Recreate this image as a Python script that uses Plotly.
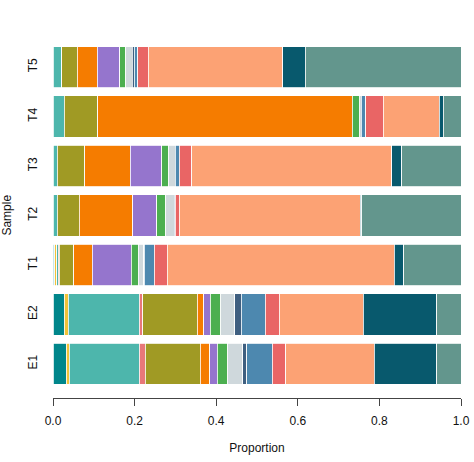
import plotly.graph_objects as go

samples = ["E1", "E2", "T1", "T2", "T3", "T4", "T5"]

taxa = ["A", "B", "C", "D", "E", "F", "G", "H", "I", "J", "K", "L", "M", "N", "O"]
colors = ["#00868B", "#F0C239", "#4DB6AC", "#E8787A", "#A09A24", "#F57C00",
          "#9575CD", "#4CAF50", "#CFD8DC", "#3F5F80", "#4D88AF", "#E96565",
          "#FCA274", "#08596D", "#63968D"]

# proportions per taxon, order of samples: E1, E2, T1, T2, T3, T4, T5
A = [0.032, 0.027, 0.004, 0.000, 0.000, 0.000, 0.000]
B = [0.008, 0.0105, 0.005, 0.000, 0.000, 0.000, 0.000]
C = [0.1715, 0.174, 0.004, 0.011, 0.010, 0.028, 0.022]
D = [0.014, 0.0085, 0.002, 0.000, 0.000, 0.000, 0.000]
E = [0.1355, 0.134, 0.036, 0.053, 0.068, 0.082, 0.037]
F = [0.023, 0.016, 0.045, 0.131, 0.111, 0.623, 0.049]
G = [0.019, 0.015, 0.096, 0.059, 0.077, 0.000, 0.055]
H = [0.025, 0.026, 0.017, 0.022, 0.018, 0.017, 0.015]
I = [0.037, 0.035, 0.013, 0.021, 0.016, 0.006, 0.016]
J = [0.010, 0.015, 0.002, 0.000, 0.000, 0.000, 0.005]
K = [0.062, 0.059, 0.024, 0.003, 0.010, 0.011, 0.009]
L = [0.034, 0.034, 0.032, 0.009, 0.030, 0.042, 0.026]
M = [0.2165, 0.2065, 0.556, 0.4435, 0.490, 0.138, 0.329]
N = [0.1525, 0.1795, 0.024, 0.0045, 0.025, 0.009, 0.055]
O = [0.060, 0.060, 0.140, 0.243, 0.145, 0.044, 0.382]

values = [A, B, C, D, E, F, G, H, I, J, K, L, M, N, O]

fig = go.Figure()
for name, col, vals in zip(taxa, colors, values):
    fig.add_trace(go.Bar(
        y=samples, x=vals, name=name, orientation="h",
        marker=dict(color=col, line=dict(color="white", width=0.8)),
        showlegend=False,
    ))

fig.update_layout(
    template="none",
    barmode="stack",
    bargap=0.167,
    width=474, height=462,
    margin=dict(l=53, r=13, t=33, b=64, pad=0),
    paper_bgcolor="white", plot_bgcolor="white",
    font=dict(family="Liberation Sans, Arial, sans-serif", size=12, color="#111"),
    xaxis=dict(
        range=[0, 1], tickvals=[0, 0.2, 0.4, 0.6, 0.8, 1.0],
        ticktext=["0.0", "0.2", "0.4", "0.6", "0.8", "1.0"],
        showgrid=False, zeroline=False, showline=True, linecolor="#444", linewidth=1,
        ticks="outside", ticklen=7, tickcolor="#444", ticklabelstandoff=5,
        automargin=False,
        title=dict(text="Proportion", standoff=16, font=dict(size=12)),
        tickfont=dict(color="#111"),
    ),
    yaxis=dict(
        type="category", range=[-0.69, 6.69],
        showgrid=False, zeroline=False, showline=False,
        ticks="outside", ticklen=10, tickcolor="rgba(0,0,0,0)",
        tickangle=-90, automargin=False,
        tickfont=dict(color="#111"),
    ),
    annotations=[dict(
        text="Sample", xref="paper", yref="paper", x=-0.115, y=0.5,
        textangle=-90, showarrow=False, xanchor="center", yanchor="middle",
        font=dict(size=12, color="#111"),
    )],
)

fig.write_html("out.html")
